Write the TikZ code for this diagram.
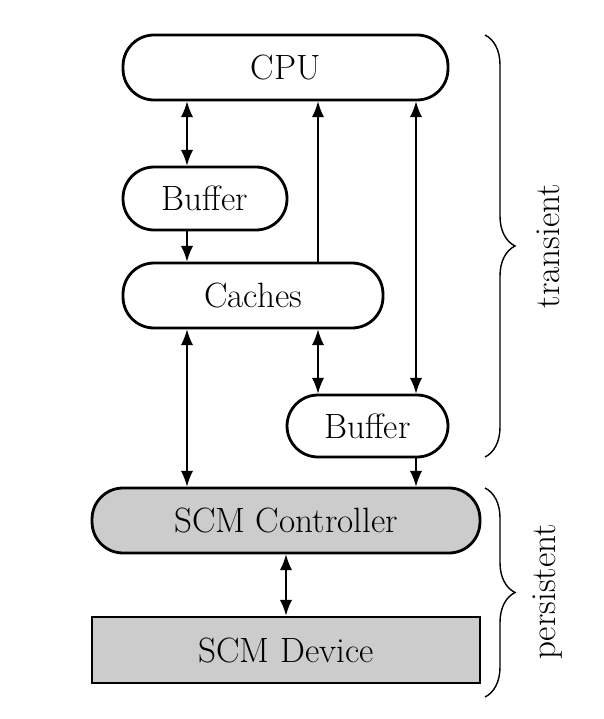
\documentclass[tikz,border=0pt]{standalone}
\usetikzlibrary{decorations.pathreplacing,arrows.meta}
\begin{document}
\begin{tikzpicture}[x=0.02cm,y=-0.02cm,
  box/.style={draw,line width=1.6pt,rounded corners=0.62cm,inner sep=0pt,font=\fontsize{20}{24}\selectfont},
  arr/.style={line width=0.8pt,-{Latex[length=9pt,width=7pt]}},
  darr/.style={line width=0.8pt,{Latex[length=9pt,width=7pt]}-{Latex[length=9pt,width=7pt]}}]
\useasboundingbox (0,0) rectangle (604,719);
\node[box,minimum width=6.5cm,minimum height=1.3cm] (cpu) at (285.5,67.5) {CPU};
\node[box,minimum width=3.28cm,minimum height=1.26cm] (buf1) at (205,198.5) {Buffer};
\node[box,minimum width=5.2cm,minimum height=1.3cm] (cache) at (253,295.5) {Caches};
\node[box,minimum width=3.22cm,minimum height=1.24cm] (buf2) at (367.5,426) {Buffer};
\node[box,fill=black!20,minimum width=7.76cm,minimum height=1.3cm] (ctrl) at (286,520.5) {SCM Controller};
\node[box,rounded corners=0pt,fill=black!20,minimum width=7.76cm,minimum height=1.32cm] (dev) at (286,650) {SCM Device};
\draw[darr] (cpu.south -| 187,0) -- (buf1.north -| 187,0);
\draw[arr] (buf1.south -| 187,0) -- (cache.north -| 187,0);
\draw[arr] (cache.north -| 318,0) -- (cpu.south -| 318,0);
\draw[darr] (cpu.south -| 416,0) -- (buf2.north -| 416,0);
\draw[darr] (cache.south -| 318,0) -- (buf2.north -| 318,0);
\draw[darr] (cache.south -| 187,0) -- (ctrl.north -| 187,0);
\draw[arr] (buf2.south -| 416,0) -- (ctrl.north -| 416,0);
\draw[darr] (ctrl.south -| 286,0) -- (dev.north -| 286,0);
\coordinate (t1) at (485,35); \coordinate (t2) at (485,457);
\coordinate (p1) at (485,488); \coordinate (p2) at (485,697);
\draw[line width=0.8pt,decorate,decoration={brace,amplitude=0.6cm}] (t1) -- (t2);
\draw[line width=0.8pt,decorate,decoration={brace,amplitude=0.6cm}] (p1) -- (p2);
\node[rotate=90,font=\fontsize{20}{24}\selectfont] (tl) at (548,246) {transient};
\node[rotate=90,font=\fontsize{20}{24}\selectfont] (pl) at (548,592) {persistent};
\end{tikzpicture}
\end{document}
